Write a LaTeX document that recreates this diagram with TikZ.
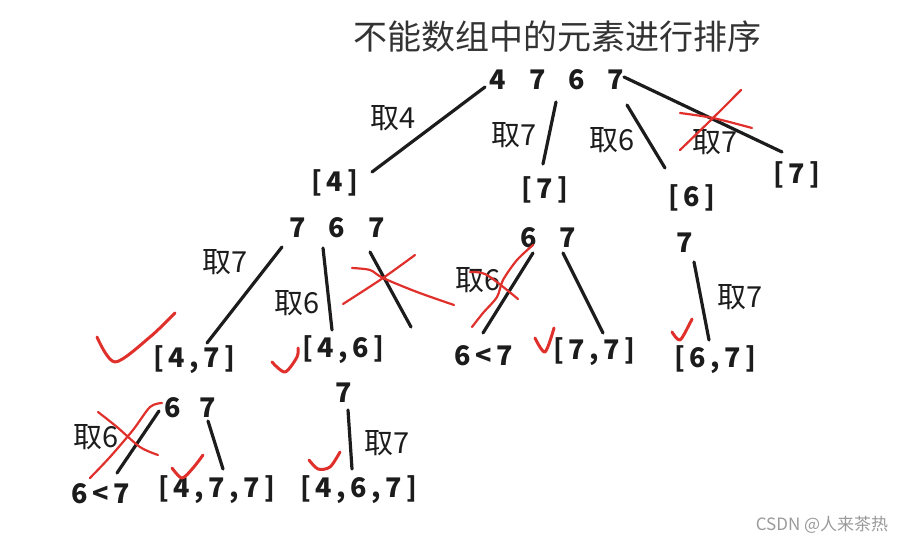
\documentclass[tikz,border=0pt]{standalone}
\usepackage{fontspec}
\setmainfont{Noto Sans CJK SC}
\usetikzlibrary{calc}
\definecolor{ink}{HTML}{1C1C1C}
\definecolor{pen}{HTML}{E0302B}
\definecolor{wmark}{HTML}{9A9A9A}
\newcommand{\dgap}{\hspace{0.85em}}

\begin{document}
\begin{tikzpicture}[x=1pt,y=-1pt,
    num/.style={inner sep=0pt, text=ink, font=\fontsize{27}{27}\selectfont\bfseries},
    pick/.style={inner sep=0pt, text=ink, font=\fontsize{29}{29}\selectfont},
    edge/.style={ink, line width=3.2pt, line cap=round},
    cross/.style={pen, line width=2.2pt, line cap=round},
    tick/.style={pen, line width=3pt, line cap=round, line join=round}]
  \useasboundingbox (0,0) rectangle (904,543);

  \node[text=ink!90, font=\fontsize{34}{34}\selectfont] (T) at (557,37) {不能数组中的元素进行排序};
  \node[num] (R) at (557,80) {4\dgap 7\dgap 6\dgap 7};

  \node[pick] (LA) at (393,118) {取4};
  \node[pick] (LB) at (514,135) {取7};
  \node[pick] (LC) at (612,140) {取6};
  \node[pick] (LD) at (715,142) {取7};

  \node[num] (P4) at (335,183) {[\,4\,]};
  \node[num] (P7) at (545,190) {[\,7\,]};
  \node[num] (P6) at (692,198) {[\,6\,]};
  \node[num] (Q7) at (797,175) {[\,7\,]};

  \node[num] (S4) at (337,228) {7\dgap 6\dgap 7};
  \node[num] (S7) at (548,238) {6\dgap 7};
  \node[num] (S6) at (685,243) {7};

  \node[pick] (LE) at (225,262) {取7};
  \node[pick] (LF) at (297,303) {取6};
  \node[pick] (LG) at (478,280) {取6};
  \node[pick] (LH) at (740,297) {取7};

  \node[num] (P47) at (194,360) {[\,4\,,\,7\,]};
  \node[num] (P46) at (343,350) {[\,4\,,\,6\,]};
  \node[num] (X1)  at (484,356) {6\,<\,7};
  \node[num] (P77) at (594,352) {[\,7\,,\,7\,]};
  \node[num] (P67) at (715,360) {[\,6\,,\,7\,]};
  \coordinate (D) at (411,327);

  \node[num] (S47) at (190,408) {6\hspace{0.7em}7};
  \node[num] (S46) at (344,393) {7};

  \node[pick] (LI) at (96,437) {取6};
  \node[pick] (LJ) at (387,443) {取7};

  \node[num] (X2)   at (101,494) {6\,<\,7};
  \node[num] (P477) at (217,490) {[\,4\,,\,7\,,\,7\,]};
  \node[num] (P467) at (359,490) {[\,4\,,\,6\,,\,7\,]};

  \node[text=wmark, font=\fontsize{17}{17}\selectfont] (W) at (822,525) {CSDN @人来茶热};

  \draw[edge] ([shift={(-72,7)}]R.center) -- ([shift={(37,-11)}]P4.center);
  \draw[edge] ([shift={(-1,22)}]R.center) -- ([shift={(-2,-26)}]P7.center);
  \draw[edge] ([shift={(70,25)}]R.center) -- ([shift={(-27,-30)}]P6.center);
  \draw[edge] ([shift={(67,-3)}]R.center) -- ([shift={(-15,-23)}]Q7.center);

  \draw[edge] ([shift={(-55,19)}]S4.center) -- ([shift={(13,-17)}]P47.center);
  \draw[edge] ([shift={(-14,20)}]S4.center) -- ([shift={(-11,-20)}]P46.center);
  \draw[edge] ([shift={(33,24)}]S4.center) -- (D);

  \draw[edge] ([shift={(-15,15)}]S7.center) -- ([shift={(-1,-23)}]X1.center);
  \draw[edge] ([shift={(15,15)}]S7.center) -- ([shift={(9,-19)}]P77.center);
  \draw[edge] ([shift={(9,19)}]S6.center) -- ([shift={(-6,-20)}]P67.center);

  \draw[edge] ([shift={(-31,3)}]S47.center) -- ([shift={(16,-21)}]X2.center);
  \draw[edge] ([shift={(18,13)}]S47.center) -- ([shift={(6,-21)}]P477.center);
  \draw[edge] ([shift={(4,17)}]S46.center) -- ([shift={(-7,-21)}]P467.center);

  \draw[cross] plot[smooth] coordinates {(680,113) (713,118) (752,128)};
  \draw[cross] plot[smooth] coordinates {(741,90) (713,118) (680,150)};

  \draw[cross] plot[smooth] coordinates {(352,268) (370,270) (383,278) (417,292) (454,305)};
  \draw[cross] plot[smooth] coordinates {(343,304) (383,278) (415,255)};

  \draw[cross] plot[smooth] coordinates {(472,327) (483,313) (497,297) (503,280) (517,260) (533,245)};
  \draw[cross] plot[smooth] coordinates {(470,272) (487,275) (518,299)};

  \draw[cross] plot[smooth] coordinates {(90,478) (110,457) (133,430) (150,407) (162,403)};
  \draw[cross] plot[smooth] coordinates {(98,412) (117,427) (140,447) (158,455)};

  \draw[tick] plot[smooth] coordinates {(97,337) (115,362) (150,337) (175,313)};
  \draw[tick] plot[smooth] coordinates {(272,362) (285,372) (297,357) (298,348)};
  \draw[tick] plot[smooth] coordinates {(535,338) (545,352) (554,328)};
  \draw[tick] plot[smooth] coordinates {(672,332) (680,340) (690,323) (692,319)};
  \draw[tick] plot[smooth] coordinates {(172,468) (182,478) (193,468) (203,455)};
  \draw[tick] plot[smooth] coordinates {(309,460) (318,469) (330,467) (340,452)};
\end{tikzpicture}
\end{document}
